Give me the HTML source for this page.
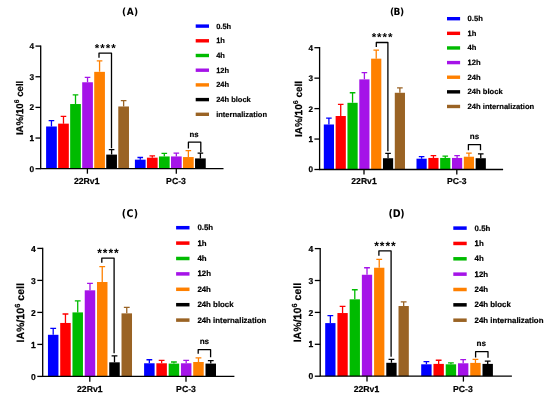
<!DOCTYPE html>
<html><head><meta charset="utf-8"><title>Figure</title>
<style>
html,body{margin:0;padding:0;background:#fff;}
body{width:550px;height:408px;overflow:hidden;}
svg{display:block;}
text{text-rendering:geometricPrecision;}
.o{font-weight:normal;stroke:#000;stroke-linejoin:round;}
.b{font-family:"Liberation Sans",Arial,sans-serif;font-weight:bold;fill:#000;stroke:#000;stroke-width:0.18px;}
</style></head><body>
<svg width="550" height="408" viewBox="0 0 550 408">
<rect width="550" height="408" fill="#fff"/>
<text x="130.40" y="14.7" font-family="'DejaVu Sans Condensed','DejaVu Sans','Liberation Sans',sans-serif" font-weight="bold" font-size="10" letter-spacing="0.5" text-anchor="middle">(A)</text>
<rect x="46.10" y="126.49" width="10.70" height="42.21" fill="#0000ff"/>
<path d="M51.45 126.49V120.58M48.65 120.58H54.25" stroke="#0000ff" stroke-width="1.3" fill="none"/>
<rect x="58.13" y="123.64" width="10.70" height="45.06" fill="#ff0000"/>
<path d="M63.48 123.64V116.29M60.68 116.29H66.28" stroke="#ff0000" stroke-width="1.3" fill="none"/>
<rect x="70.16" y="104.03" width="10.70" height="64.67" fill="#00bb00"/>
<path d="M75.51 104.03V94.83M72.71 94.83H78.31" stroke="#00bb00" stroke-width="1.3" fill="none"/>
<rect x="82.19" y="82.27" width="10.70" height="86.43" fill="#a513e8"/>
<path d="M87.54 82.27V77.36M84.74 77.36H90.34" stroke="#a513e8" stroke-width="1.3" fill="none"/>
<rect x="94.22" y="71.85" width="10.70" height="96.85" fill="#ff8000"/>
<path d="M99.57 71.85V60.81M96.77 60.81H102.37" stroke="#ff8000" stroke-width="1.3" fill="none"/>
<rect x="106.25" y="154.60" width="10.70" height="14.10" fill="#000000"/>
<path d="M111.60 154.60V149.70M108.80 149.70H114.40" stroke="#000000" stroke-width="1.3" fill="none"/>
<rect x="118.28" y="106.48" width="10.70" height="62.22" fill="#9a6324"/>
<path d="M123.63 106.48V100.66M120.83 100.66H126.43" stroke="#9a6324" stroke-width="1.3" fill="none"/>
<rect x="134.90" y="159.66" width="10.70" height="9.04" fill="#0000ff"/>
<path d="M140.25 159.66V157.51M137.45 157.51H143.05" stroke="#0000ff" stroke-width="1.3" fill="none"/>
<rect x="146.93" y="157.67" width="10.70" height="11.03" fill="#ff0000"/>
<path d="M152.28 157.67V155.83M149.48 155.83H155.08" stroke="#ff0000" stroke-width="1.3" fill="none"/>
<rect x="158.96" y="156.44" width="10.70" height="12.26" fill="#00bb00"/>
<path d="M164.31 156.44V153.38M161.51 153.38H167.11" stroke="#00bb00" stroke-width="1.3" fill="none"/>
<rect x="170.99" y="156.44" width="10.70" height="12.26" fill="#a513e8"/>
<path d="M176.34 156.44V153.22M173.54 153.22H179.14" stroke="#a513e8" stroke-width="1.3" fill="none"/>
<rect x="183.02" y="157.05" width="10.70" height="11.65" fill="#ff8000"/>
<path d="M188.37 157.05V150.62M185.57 150.62H191.17" stroke="#ff8000" stroke-width="1.3" fill="none"/>
<rect x="195.05" y="158.43" width="10.70" height="10.27" fill="#000000"/>
<path d="M200.40 158.43V153.22M197.60 153.22H203.20" stroke="#000000" stroke-width="1.3" fill="none"/>
<path d="M40.7 45.45V169.35M40.05 168.7H223.5" stroke="#000" stroke-width="1.3" fill="none"/>
<path d="M35.50 168.70H40.7" stroke="#000" stroke-width="1.3"/>
<text x="34.10" y="171.69" font-size="8.3" text-anchor="end" class="b">0</text>
<path d="M35.50 138.05H40.7" stroke="#000" stroke-width="1.3"/>
<text x="34.10" y="141.04" font-size="8.3" text-anchor="end" class="b"><tspan class="o" stroke-width="0.62">1</tspan></text>
<path d="M35.50 107.40H40.7" stroke="#000" stroke-width="1.3"/>
<text x="34.10" y="110.39" font-size="8.3" text-anchor="end" class="b">2</text>
<path d="M35.50 76.75H40.7" stroke="#000" stroke-width="1.3"/>
<text x="34.10" y="79.74" font-size="8.3" text-anchor="end" class="b">3</text>
<path d="M35.50 46.10H40.7" stroke="#000" stroke-width="1.3"/>
<text x="34.10" y="49.09" font-size="8.3" text-anchor="end" class="b">4</text>
<path d="M87.4 168.7V173.70" stroke="#000" stroke-width="1.3"/>
<text x="86.7" y="183.9" font-size="8.7" text-anchor="middle" class="b">22Rv<tspan class="o" stroke-width="0.65">1</tspan></text>
<path d="M176.3 168.7V173.70" stroke="#000" stroke-width="1.3"/>
<text x="176" y="183.9" font-size="8.7" text-anchor="middle" class="b">PC-3</text>
<text transform="translate(23.2 107.9) rotate(-90)" font-size="9.7" text-anchor="middle" class="b">IA%/<tspan class="o" stroke-width="0.73">1</tspan>0<tspan font-size="6.79" dy="-4.07">6</tspan><tspan dy="4.07"> cell</tspan></text>
<path d="M99 57.7V53.1H111.5V148.2" stroke="#000" stroke-width="1.3" stroke-linejoin="round" fill="none"/>
<text x="105.75" y="52.0" font-size="11.5" text-anchor="middle" class="b" letter-spacing="1.0" style="stroke:none">****</text>
<path d="M188.4 148.6V142.2H200.8V152.2" stroke="#000" stroke-width="1.3" stroke-linejoin="round" fill="none"/>
<text x="194.10" y="136.8" font-size="7.8" text-anchor="middle" class="b" >ns</text>
<rect x="195.7" y="24.40" width="13.3" height="3.4" fill="#0000ff"/>
<text x="216.2" y="28.50" font-size="7.5" class="b">0.5h</text>
<rect x="195.7" y="39.10" width="13.3" height="3.4" fill="#ff0000"/>
<text x="216.2" y="43.20" font-size="7.5" class="b"><tspan class="o" stroke-width="0.56">1</tspan>h</text>
<rect x="195.7" y="53.80" width="13.3" height="3.4" fill="#00bb00"/>
<text x="216.2" y="57.90" font-size="7.5" class="b">4h</text>
<rect x="195.7" y="68.50" width="13.3" height="3.4" fill="#a513e8"/>
<text x="216.2" y="72.60" font-size="7.5" class="b"><tspan class="o" stroke-width="0.56">1</tspan>2h</text>
<rect x="195.7" y="83.20" width="13.3" height="3.4" fill="#ff8000"/>
<text x="216.2" y="87.30" font-size="7.5" class="b">24h</text>
<rect x="195.7" y="97.90" width="13.3" height="3.4" fill="#000000"/>
<text x="216.2" y="102.00" font-size="7.5" class="b">24h block</text>
<rect x="195.7" y="112.60" width="13.3" height="3.4" fill="#9a6324"/>
<text x="216.2" y="116.70" font-size="7.5" class="b">internalization</text>
<text x="396.80" y="15.1" font-family="'DejaVu Sans Condensed','DejaVu Sans','Liberation Sans',sans-serif" font-weight="bold" font-size="10" letter-spacing="-0.5" text-anchor="middle">(B)</text>
<rect x="323.80" y="124.49" width="10.20" height="45.01" fill="#0000ff"/>
<path d="M328.90 124.49V118.04M326.10 118.04H331.70" stroke="#0000ff" stroke-width="1.3" fill="none"/>
<rect x="335.63" y="116.00" width="10.20" height="53.50" fill="#ff0000"/>
<path d="M340.73 116.00V104.34M337.93 104.34H343.53" stroke="#ff0000" stroke-width="1.3" fill="none"/>
<rect x="347.46" y="102.81" width="10.20" height="66.69" fill="#00bb00"/>
<path d="M352.56 102.81V92.77M349.76 92.77H355.36" stroke="#00bb00" stroke-width="1.3" fill="none"/>
<rect x="359.29" y="79.37" width="10.20" height="90.13" fill="#a513e8"/>
<path d="M364.39 79.37V72.67M361.59 72.67H367.19" stroke="#a513e8" stroke-width="1.3" fill="none"/>
<rect x="371.12" y="58.66" width="10.20" height="110.84" fill="#ff8000"/>
<path d="M376.22 58.66V50.14M373.42 50.14H379.02" stroke="#ff8000" stroke-width="1.3" fill="none"/>
<rect x="382.95" y="158.23" width="10.20" height="11.27" fill="#000000"/>
<path d="M388.05 158.23V153.36M385.25 153.36H390.85" stroke="#000000" stroke-width="1.3" fill="none"/>
<rect x="394.78" y="92.77" width="10.20" height="76.73" fill="#9a6324"/>
<path d="M399.88 92.77V87.89M397.08 87.89H402.68" stroke="#9a6324" stroke-width="1.3" fill="none"/>
<rect x="416.50" y="158.69" width="10.20" height="10.81" fill="#0000ff"/>
<path d="M421.60 158.69V156.71M418.80 156.71H424.40" stroke="#0000ff" stroke-width="1.3" fill="none"/>
<rect x="428.33" y="157.93" width="10.20" height="11.57" fill="#ff0000"/>
<path d="M433.43 157.93V155.65M430.63 155.65H436.23" stroke="#ff0000" stroke-width="1.3" fill="none"/>
<rect x="440.16" y="157.93" width="10.20" height="11.57" fill="#00bb00"/>
<path d="M445.26 157.93V156.10M442.46 156.10H448.06" stroke="#00bb00" stroke-width="1.3" fill="none"/>
<rect x="451.99" y="157.93" width="10.20" height="11.57" fill="#a513e8"/>
<path d="M457.09 157.93V155.65M454.29 155.65H459.89" stroke="#a513e8" stroke-width="1.3" fill="none"/>
<rect x="463.82" y="156.71" width="10.20" height="12.79" fill="#ff8000"/>
<path d="M468.92 156.71V153.06M466.12 153.06H471.72" stroke="#ff8000" stroke-width="1.3" fill="none"/>
<rect x="475.65" y="158.23" width="10.20" height="11.27" fill="#000000"/>
<path d="M480.75 158.23V153.82M477.95 153.82H483.55" stroke="#000000" stroke-width="1.3" fill="none"/>
<path d="M319.6 47.05V170.15M318.95 169.5H503.1" stroke="#000" stroke-width="1.3" fill="none"/>
<path d="M314.40 169.50H319.6" stroke="#000" stroke-width="1.3"/>
<text x="313.00" y="172.45" font-size="8.2" text-anchor="end" class="b">0</text>
<path d="M314.40 139.05H319.6" stroke="#000" stroke-width="1.3"/>
<text x="313.00" y="142.00" font-size="8.2" text-anchor="end" class="b"><tspan class="o" stroke-width="0.61">1</tspan></text>
<path d="M314.40 108.60H319.6" stroke="#000" stroke-width="1.3"/>
<text x="313.00" y="111.55" font-size="8.2" text-anchor="end" class="b">2</text>
<path d="M314.40 78.15H319.6" stroke="#000" stroke-width="1.3"/>
<text x="313.00" y="81.10" font-size="8.2" text-anchor="end" class="b">3</text>
<path d="M314.40 47.70H319.6" stroke="#000" stroke-width="1.3"/>
<text x="313.00" y="50.65" font-size="8.2" text-anchor="end" class="b">4</text>
<path d="M364 169.5V174.50" stroke="#000" stroke-width="1.3"/>
<text x="364" y="184.1" font-size="8.6" text-anchor="middle" class="b">22Rv<tspan class="o" stroke-width="0.64">1</tspan></text>
<path d="M456.8 169.5V174.50" stroke="#000" stroke-width="1.3"/>
<text x="456.8" y="184.1" font-size="8.6" text-anchor="middle" class="b">PC-3</text>
<text transform="translate(302.0 109.0) rotate(-90)" font-size="10.0" text-anchor="middle" class="b">IA%/<tspan class="o" stroke-width="0.75">1</tspan>0<tspan font-size="7.00" dy="-4.20">6</tspan><tspan dy="4.20"> cell</tspan></text>
<path d="M376.3 47.1V42.5H387.9V151.2" stroke="#000" stroke-width="1.3" stroke-linejoin="round" fill="none"/>
<text x="382.60" y="40.8" font-size="11.5" text-anchor="middle" class="b" letter-spacing="1.0" style="stroke:none">****</text>
<path d="M468.4 150.2V144.6H480.5V150.2" stroke="#000" stroke-width="1.3" stroke-linejoin="round" fill="none"/>
<text x="474.45" y="139.2" font-size="8" text-anchor="middle" class="b" >ns</text>
<rect x="447" y="17.00" width="13.1" height="3.4" fill="#0000ff"/>
<text x="467.6" y="21.13" font-size="7.6" class="b">0.5h</text>
<rect x="447" y="31.63" width="13.1" height="3.4" fill="#ff0000"/>
<text x="467.6" y="35.76" font-size="7.6" class="b"><tspan class="o" stroke-width="0.57">1</tspan>h</text>
<rect x="447" y="46.26" width="13.1" height="3.4" fill="#00bb00"/>
<text x="467.6" y="50.39" font-size="7.6" class="b">4h</text>
<rect x="447" y="60.89" width="13.1" height="3.4" fill="#a513e8"/>
<text x="467.6" y="65.02" font-size="7.6" class="b"><tspan class="o" stroke-width="0.57">1</tspan>2h</text>
<rect x="447" y="75.52" width="13.1" height="3.4" fill="#ff8000"/>
<text x="467.6" y="79.65" font-size="7.6" class="b">24h</text>
<rect x="447" y="90.15" width="13.1" height="3.4" fill="#000000"/>
<text x="467.6" y="94.28" font-size="7.6" class="b">24h block</text>
<rect x="447" y="104.78" width="13.1" height="3.4" fill="#9a6324"/>
<text x="467.6" y="108.91" font-size="7.6" class="b">24h internalization</text>
<text x="130.20" y="217.2" font-family="'DejaVu Sans Condensed','DejaVu Sans','Liberation Sans',sans-serif" font-weight="bold" font-size="10.5" letter-spacing="0.4" text-anchor="middle">(C)</text>
<rect x="47.95" y="334.80" width="10.50" height="41.60" fill="#0000ff"/>
<path d="M53.20 334.80V328.40M50.30 328.40H56.10" stroke="#0000ff" stroke-width="1.3" fill="none"/>
<rect x="60.21" y="322.96" width="10.50" height="53.44" fill="#ff0000"/>
<path d="M65.46 322.96V314.00M62.56 314.00H68.36" stroke="#ff0000" stroke-width="1.3" fill="none"/>
<rect x="72.47" y="312.40" width="10.50" height="64.00" fill="#00bb00"/>
<path d="M77.72 312.40V300.88M74.82 300.88H80.62" stroke="#00bb00" stroke-width="1.3" fill="none"/>
<rect x="84.73" y="290.32" width="10.50" height="86.08" fill="#a513e8"/>
<path d="M89.98 290.32V283.28M87.08 283.28H92.88" stroke="#a513e8" stroke-width="1.3" fill="none"/>
<rect x="96.99" y="282.00" width="10.50" height="94.40" fill="#ff8000"/>
<path d="M102.24 282.00V266.64M99.34 266.64H105.14" stroke="#ff8000" stroke-width="1.3" fill="none"/>
<rect x="109.25" y="362.32" width="10.50" height="14.08" fill="#000000"/>
<path d="M114.50 362.32V355.92M111.60 355.92H117.40" stroke="#000000" stroke-width="1.3" fill="none"/>
<rect x="121.51" y="313.36" width="10.50" height="63.04" fill="#9a6324"/>
<path d="M126.76 313.36V307.28M123.86 307.28H129.66" stroke="#9a6324" stroke-width="1.3" fill="none"/>
<rect x="144.10" y="363.28" width="10.50" height="13.12" fill="#0000ff"/>
<path d="M149.35 363.28V359.76M146.45 359.76H152.25" stroke="#0000ff" stroke-width="1.3" fill="none"/>
<rect x="156.38" y="363.28" width="10.50" height="13.12" fill="#ff0000"/>
<path d="M161.63 363.28V360.40M158.73 360.40H164.53" stroke="#ff0000" stroke-width="1.3" fill="none"/>
<rect x="168.66" y="363.60" width="10.50" height="12.80" fill="#00bb00"/>
<path d="M173.91 363.60V362.00M171.01 362.00H176.81" stroke="#00bb00" stroke-width="1.3" fill="none"/>
<rect x="180.94" y="363.28" width="10.50" height="13.12" fill="#a513e8"/>
<path d="M186.19 363.28V360.40M183.29 360.40H189.09" stroke="#a513e8" stroke-width="1.3" fill="none"/>
<rect x="193.22" y="362.00" width="10.50" height="14.40" fill="#ff8000"/>
<path d="M198.47 362.00V357.84M195.57 357.84H201.37" stroke="#ff8000" stroke-width="1.3" fill="none"/>
<rect x="205.50" y="363.60" width="10.50" height="12.80" fill="#000000"/>
<path d="M210.75 363.60V360.72M207.85 360.72H213.65" stroke="#000000" stroke-width="1.3" fill="none"/>
<path d="M42.7 247.75V377.05M42.05 376.4H234.4" stroke="#000" stroke-width="1.3" fill="none"/>
<path d="M37.30 376.40H42.7" stroke="#000" stroke-width="1.3"/>
<text x="35.90" y="379.50" font-size="8.6" text-anchor="end" class="b">0</text>
<path d="M37.30 344.40H42.7" stroke="#000" stroke-width="1.3"/>
<text x="35.90" y="347.50" font-size="8.6" text-anchor="end" class="b"><tspan class="o" stroke-width="0.64">1</tspan></text>
<path d="M37.30 312.40H42.7" stroke="#000" stroke-width="1.3"/>
<text x="35.90" y="315.50" font-size="8.6" text-anchor="end" class="b">2</text>
<path d="M37.30 280.40H42.7" stroke="#000" stroke-width="1.3"/>
<text x="35.90" y="283.50" font-size="8.6" text-anchor="end" class="b">3</text>
<path d="M37.30 248.40H42.7" stroke="#000" stroke-width="1.3"/>
<text x="35.90" y="251.50" font-size="8.6" text-anchor="end" class="b">4</text>
<path d="M89.8 376.4V381.80" stroke="#000" stroke-width="1.3"/>
<text x="89.8" y="391.8" font-size="8.7" text-anchor="middle" class="b">22Rv<tspan class="o" stroke-width="0.65">1</tspan></text>
<path d="M186 376.4V381.80" stroke="#000" stroke-width="1.3"/>
<text x="186" y="391.8" font-size="8.7" text-anchor="middle" class="b">PC-3</text>
<text transform="translate(24.1 312.8) rotate(-90)" font-size="10.6" text-anchor="middle" class="b">IA%/<tspan class="o" stroke-width="0.79">1</tspan>0<tspan font-size="7.42" dy="-4.45">6</tspan><tspan dy="4.45"> cell</tspan></text>
<path d="M101.8 262.8V258.2H114.1V353.2" stroke="#000" stroke-width="1.3" stroke-linejoin="round" fill="none"/>
<text x="108.40" y="256.5" font-size="12" text-anchor="middle" class="b" letter-spacing="0.89" style="stroke:none">****</text>
<path d="M198.2 353.8V349.7H210.6V357.2" stroke="#000" stroke-width="1.3" stroke-linejoin="round" fill="none"/>
<text x="204.40" y="343.6" font-size="8.1" text-anchor="middle" class="b" >ns</text>
<rect x="176.1" y="225.95" width="13.4" height="3.5" fill="#0000ff"/>
<text x="197.4" y="230.21" font-size="7.85" class="b">0.5h</text>
<rect x="176.1" y="241.35" width="13.4" height="3.5" fill="#ff0000"/>
<text x="197.4" y="245.61" font-size="7.85" class="b"><tspan class="o" stroke-width="0.59">1</tspan>h</text>
<rect x="176.1" y="256.75" width="13.4" height="3.5" fill="#00bb00"/>
<text x="197.4" y="261.01" font-size="7.85" class="b">4h</text>
<rect x="176.1" y="272.15" width="13.4" height="3.5" fill="#a513e8"/>
<text x="197.4" y="276.41" font-size="7.85" class="b"><tspan class="o" stroke-width="0.59">1</tspan>2h</text>
<rect x="176.1" y="287.55" width="13.4" height="3.5" fill="#ff8000"/>
<text x="197.4" y="291.81" font-size="7.85" class="b">24h</text>
<rect x="176.1" y="302.95" width="13.4" height="3.5" fill="#000000"/>
<text x="197.4" y="307.21" font-size="7.85" class="b">24h block</text>
<rect x="176.1" y="318.35" width="13.4" height="3.5" fill="#9a6324"/>
<text x="197.4" y="322.61" font-size="7.85" class="b">24h internalization</text>
<text x="396.40" y="217.2" font-family="'DejaVu Sans Condensed','DejaVu Sans','Liberation Sans',sans-serif" font-weight="bold" font-size="10.5" letter-spacing="-0.3" text-anchor="middle">(D)</text>
<rect x="325.20" y="323.09" width="10.30" height="53.11" fill="#0000ff"/>
<path d="M330.35 323.09V315.59M327.45 315.59H333.25" stroke="#0000ff" stroke-width="1.3" fill="none"/>
<rect x="337.42" y="313.04" width="10.30" height="63.16" fill="#ff0000"/>
<path d="M342.57 313.04V306.34M339.67 306.34H345.47" stroke="#ff0000" stroke-width="1.3" fill="none"/>
<rect x="349.64" y="299.32" width="10.30" height="76.88" fill="#00bb00"/>
<path d="M354.79 299.32V289.75M351.89 289.75H357.69" stroke="#00bb00" stroke-width="1.3" fill="none"/>
<rect x="361.86" y="274.76" width="10.30" height="101.44" fill="#a513e8"/>
<path d="M367.01 274.76V267.74M364.11 267.74H369.91" stroke="#a513e8" stroke-width="1.3" fill="none"/>
<rect x="374.08" y="267.74" width="10.30" height="108.46" fill="#ff8000"/>
<path d="M379.23 267.74V259.45M376.33 259.45H382.13" stroke="#ff8000" stroke-width="1.3" fill="none"/>
<rect x="386.30" y="362.80" width="10.30" height="13.40" fill="#000000"/>
<path d="M391.45 362.80V359.29M388.55 359.29H394.35" stroke="#000000" stroke-width="1.3" fill="none"/>
<rect x="398.52" y="306.02" width="10.30" height="70.18" fill="#9a6324"/>
<path d="M403.67 306.02V301.87M400.77 301.87H406.57" stroke="#9a6324" stroke-width="1.3" fill="none"/>
<rect x="421.20" y="364.30" width="10.40" height="11.90" fill="#0000ff"/>
<path d="M426.40 364.30V361.53M423.50 361.53H429.30" stroke="#0000ff" stroke-width="1.3" fill="none"/>
<rect x="433.46" y="363.89" width="10.40" height="12.31" fill="#ff0000"/>
<path d="M438.66 363.89V360.25M435.76 360.25H441.56" stroke="#ff0000" stroke-width="1.3" fill="none"/>
<rect x="445.72" y="364.30" width="10.40" height="11.90" fill="#00bb00"/>
<path d="M450.92 364.30V362.80M448.02 362.80H453.82" stroke="#00bb00" stroke-width="1.3" fill="none"/>
<rect x="457.98" y="363.28" width="10.40" height="12.92" fill="#a513e8"/>
<path d="M463.18 363.28V359.61M460.28 359.61H466.08" stroke="#a513e8" stroke-width="1.3" fill="none"/>
<rect x="470.24" y="362.90" width="10.40" height="13.30" fill="#ff8000"/>
<path d="M475.44 362.90V359.29M472.54 359.29H478.34" stroke="#ff8000" stroke-width="1.3" fill="none"/>
<rect x="482.50" y="363.89" width="10.40" height="12.31" fill="#000000"/>
<path d="M487.70 363.89V361.21M484.80 361.21H490.60" stroke="#000000" stroke-width="1.3" fill="none"/>
<path d="M320.2 247.95V376.85M319.55 376.2H511.9" stroke="#000" stroke-width="1.3" fill="none"/>
<path d="M314.80 376.20H320.2" stroke="#000" stroke-width="1.3"/>
<text x="313.40" y="379.30" font-size="8.6" text-anchor="end" class="b">0</text>
<path d="M314.80 344.30H320.2" stroke="#000" stroke-width="1.3"/>
<text x="313.40" y="347.40" font-size="8.6" text-anchor="end" class="b"><tspan class="o" stroke-width="0.64">1</tspan></text>
<path d="M314.80 312.40H320.2" stroke="#000" stroke-width="1.3"/>
<text x="313.40" y="315.50" font-size="8.6" text-anchor="end" class="b">2</text>
<path d="M314.80 280.50H320.2" stroke="#000" stroke-width="1.3"/>
<text x="313.40" y="283.60" font-size="8.6" text-anchor="end" class="b">3</text>
<path d="M314.80 248.60H320.2" stroke="#000" stroke-width="1.3"/>
<text x="313.40" y="251.70" font-size="8.6" text-anchor="end" class="b">4</text>
<path d="M367 376.2V381.60" stroke="#000" stroke-width="1.3"/>
<text x="366.5" y="391.6" font-size="8.7" text-anchor="middle" class="b">22Rv<tspan class="o" stroke-width="0.65">1</tspan></text>
<path d="M463.4 376.2V381.60" stroke="#000" stroke-width="1.3"/>
<text x="462.9" y="391.6" font-size="8.7" text-anchor="middle" class="b">PC-3</text>
<text transform="translate(301.2 312.6) rotate(-90)" font-size="10.6" text-anchor="middle" class="b">IA%/<tspan class="o" stroke-width="0.79">1</tspan>0<tspan font-size="7.42" dy="-4.45">6</tspan><tspan dy="4.45"> cell</tspan></text>
<path d="M378.9 255.7V250.9H391.1V356.7" stroke="#000" stroke-width="1.3" stroke-linejoin="round" fill="none"/>
<text x="385.45" y="250.4" font-size="12" text-anchor="middle" class="b" letter-spacing="0.89" style="stroke:none">****</text>
<path d="M475.6 357.5V351.7H488.0V357.8" stroke="#000" stroke-width="1.3" stroke-linejoin="round" fill="none"/>
<text x="481.30" y="346.3" font-size="8.1" text-anchor="middle" class="b" >ns</text>
<rect x="453.3" y="226.35" width="13.4" height="3.5" fill="#0000ff"/>
<text x="474.6" y="230.61" font-size="7.85" class="b">0.5h</text>
<rect x="453.3" y="241.70" width="13.4" height="3.5" fill="#ff0000"/>
<text x="474.6" y="245.96" font-size="7.85" class="b"><tspan class="o" stroke-width="0.59">1</tspan>h</text>
<rect x="453.3" y="257.05" width="13.4" height="3.5" fill="#00bb00"/>
<text x="474.6" y="261.31" font-size="7.85" class="b">4h</text>
<rect x="453.3" y="272.40" width="13.4" height="3.5" fill="#a513e8"/>
<text x="474.6" y="276.66" font-size="7.85" class="b"><tspan class="o" stroke-width="0.59">1</tspan>2h</text>
<rect x="453.3" y="287.75" width="13.4" height="3.5" fill="#ff8000"/>
<text x="474.6" y="292.01" font-size="7.85" class="b">24h</text>
<rect x="453.3" y="303.10" width="13.4" height="3.5" fill="#000000"/>
<text x="474.6" y="307.36" font-size="7.85" class="b">24h block</text>
<rect x="453.3" y="318.45" width="13.4" height="3.5" fill="#9a6324"/>
<text x="474.6" y="322.71" font-size="7.85" class="b">24h internalization</text>
</svg>
</body></html>
